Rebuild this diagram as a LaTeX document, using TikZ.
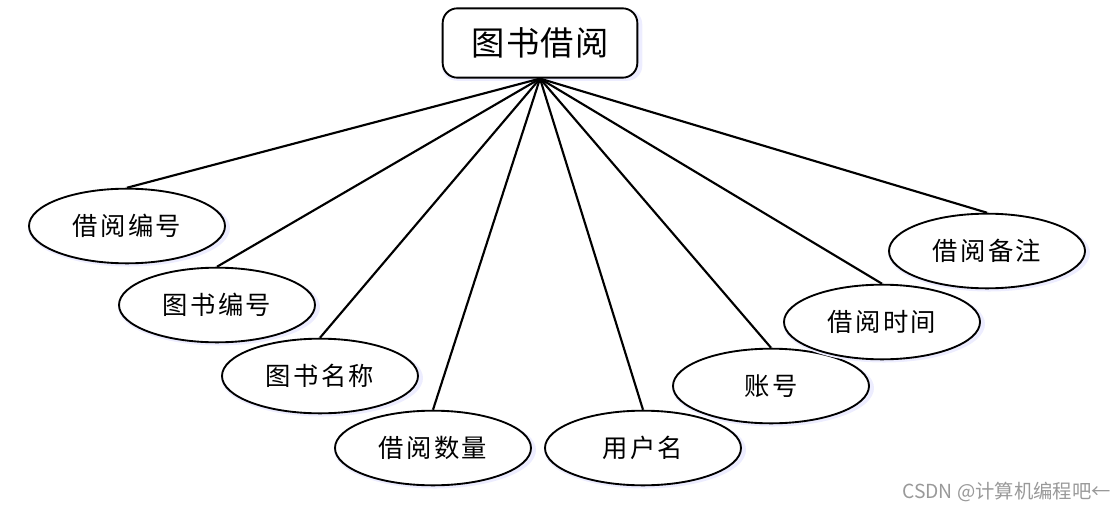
\documentclass[tikz,border=0pt]{standalone}
\usepackage{fontspec}
\setmainfont{Noto Sans CJK SC}
\usetikzlibrary{shapes.geometric,shadows}

\tikzset{
	glow/.style={general shadow={fill=blue!7, shadow scale=1.03, shadow xshift=1.5pt, shadow yshift=-1.5pt}},
	entity/.style={draw, line width=1.4pt, rounded corners=11pt, fill=white, glow,
		minimum width=146pt, minimum height=52pt, font=\fontsize{25}{28}\selectfont\addfontfeature{LetterSpace=4}},
	attr/.style={draw, ellipse, line width=1.4pt, fill=white, glow, inner sep=0pt,
		minimum width=147pt, minimum height=56pt, font=\fontsize{19}{22}\selectfont\addfontfeature{LetterSpace=9}},
	link/.style={line width=1.6pt}
}

\begin{document}
\begin{tikzpicture}[x=0.75pt, y=-0.75pt]
	\useasboundingbox (0,0) rectangle (1111,510);

	% entity
	\node[entity] (borrow) at (540,43) {图书借阅};

	% attributes
	\node[attr] (bno)    at (127,226) {借阅编号};
	\node[attr] (bookno) at (217,305) {图书编号};
	\node[attr] (bname)  at (320,376) {图书名称};
	\node[attr] (bnum)   at (433,448) {借阅数量};
	\node[attr] (uname)  at (643,448) {用户名};
	\node[attr] (acct)   at (771,386) {账号};
	\node[attr] (btime)  at (882,322) {借阅时间};
	\node[attr] (bnote)  at (987,251) {借阅备注};

	% links
	\foreach \a in {bno,bookno,bname,bnum,uname,acct,btime,bnote}
		\draw[link] (borrow.south) -- (\a.north);

	% watermark
	\node[anchor=east, text=black!40, font=\fontsize{14.5}{16}\selectfont, inner sep=0pt] (mark) at (1111,492) {CSDN @计算机编程吧←};
\end{tikzpicture}
\end{document}
